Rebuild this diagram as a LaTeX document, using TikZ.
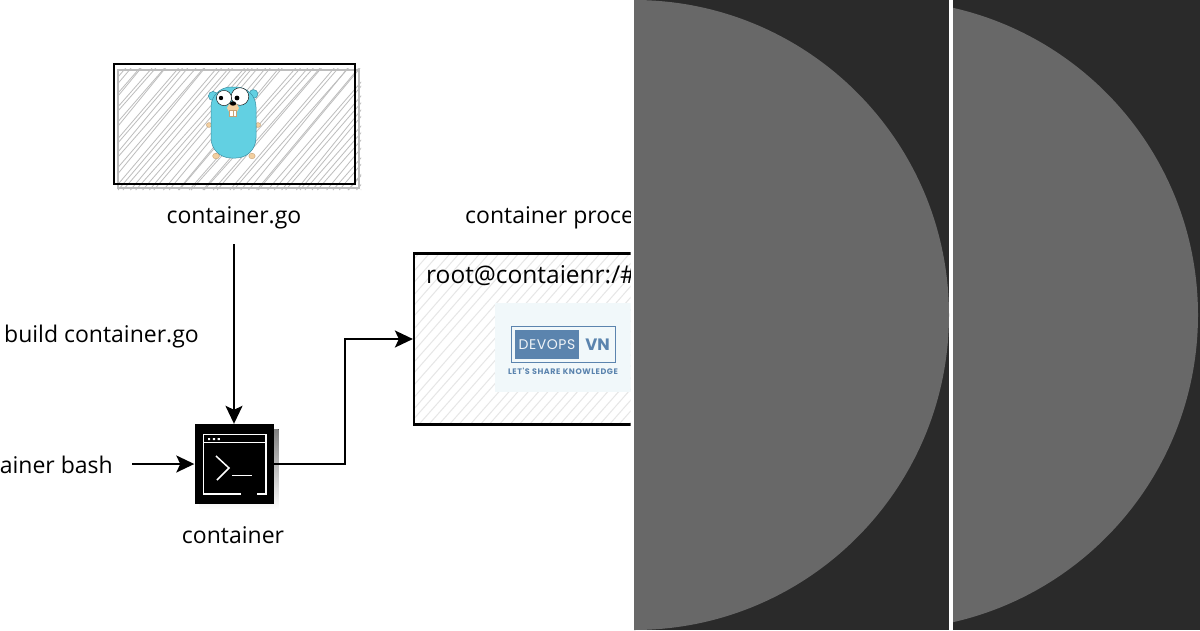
\documentclass[tikz,border=0pt]{standalone}
\usepackage{fontspec}
\setmainfont{Open Sans}
\newfontfamily\logofont{Poppins}
\usetikzlibrary{arrows.meta}
\definecolor{panel}{HTML}{2A2A2A}
\definecolor{disc}{HTML}{686868}
\definecolor{hatchA}{HTML}{BDBDBD}
\definecolor{hatchB}{HTML}{E6E6E6}
\definecolor{gopher}{HTML}{62D0E2}
\definecolor{gopherline}{HTML}{3C8FA3}
\definecolor{tan}{HTML}{F2CFA0}
\definecolor{tanline}{HTML}{C9A274}
\definecolor{logoblue}{HTML}{5B84AE}
\definecolor{logobg}{HTML}{F1F8FA}
\definecolor{shade}{HTML}{C8C8C8}
\tikzset{
  caption/.style={font=\fontsize{23}{27}\selectfont, text=black, inner sep=0pt},
  conn/.style={draw=black, line width=2pt, -{Stealth[length=18pt,width=17pt,inset=4pt]}},
  hatchgo/.style={draw=hatchA, line width=0.8pt},
  hatchproc/.style={draw=hatchB, line width=1pt},
  frame/.style={draw=black, line width=2.2pt},
  winline/.style={draw=white, line width=1.5pt},
  goshape/.style={draw=gopherline, line width=0.5pt},
  tanshape/.style={draw=tanline, line width=0.4pt},
}
\begin{document}
\begin{tikzpicture}[x=1pt,y=-1pt]
\useasboundingbox (0,0) rectangle (1200,630);
\fill[white] (0,0) rectangle (1200,630);
\pgfmathsetseed{11}

% --- Go source box: hatching, offset sketch outline, frame
\begin{scope}
  \clip (117,68) rectangle (361,190);
  \foreach \i in {8,21,...,372}{
    \draw[hatchgo] ({\i+3*rand},190) -- ({\i+104+3*rand},68);
    \draw[hatchgo] ({\i+4+3*rand},190) -- ({\i+108+3*rand},68);
  }
\end{scope}
\draw[draw=hatchA, line width=1.6pt] (118,70) rectangle (359,188);
\node[frame, minimum width=241pt, minimum height=120pt, inner sep=0pt] (gobox) at (234.5,124) {};

% --- Gopher
\begin{scope}
  \fill[tan, tanshape] (209,125) ellipse (2.6pt and 2.4pt);
  \fill[tan, tanshape] (258,125) ellipse (2.6pt and 2.4pt);
  \fill[tan, tanshape] (216,156) ellipse (3.4pt and 2.8pt);
  \fill[tan, tanshape] (252,156) ellipse (3.2pt and 2.8pt);
  \fill[gopher, goshape] (213,96) circle (4.6pt);
  \fill[gopher, goshape] (253.5,94) circle (4.4pt);
  \fill[gopher, goshape, rounded corners=20pt] (211,87) rectangle (256,158);
  \fill[white, draw=black, line width=0.4pt] (224,98) circle (7.6pt);
  \fill[white, draw=black, line width=0.4pt] (240,96.5) circle (8.8pt);
  \fill[black] (221,98) circle (2.2pt);
  \fill[black] (237,98) circle (2.4pt);
  \fill[tan] (233,108) ellipse (6pt and 4.8pt);
  \fill[white, draw=tanline, line width=0.3pt] (229.5,110) rectangle (233,116);
  \fill[white, draw=tanline, line width=0.3pt] (233,110) rectangle (236.5,116);
  \fill[black] (233,103.5) ellipse (3.2pt and 2.2pt);
\end{scope}

% --- Captions
\node[caption, minimum height=52pt] (gotext) at (234,218) {container.go};
\node[caption, anchor=west] (buildtext) at (4,337) {build container.go};
\node[caption, anchor=east] (bashtext) at (113,465) {ainer bash};
\node[caption] (termtext) at (233,535) {container};

% --- Terminal icon
\fill[shade] (199,429) rectangle (278.5,509);
\node[fill=black, minimum width=79pt, minimum height=80pt, inner sep=0pt] (term) at (234,464) {};
\draw[winline] (241,494) -- (203.5,494) -- (203.5,434.5) -- (266,434.5) -- (266,494) -- (257,494);
\draw[winline] (203.5,442.5) -- (266,442.5);
\fill[white] (208,438) rectangle (210.2,440) (212.8,438) rectangle (215,440) (217.6,438) rectangle (219.8,440);
\draw[winline] (216,456) -- (229,468) -- (217,480);
\draw[winline] (232,475.5) -- (252,475.5);

% --- Process box (clipped at the panel's white margin)
\begin{scope}
  \clip (400,195) rectangle (630.5,440);
  \begin{scope}
    \clip (414,253) rectangle (640,424);
    \foreach \i in {240,250,...,640}{
      \draw[hatchproc] ({\i+rand},424) -- ({\i+150+rand},253);
    }
  \end{scope}
  \fill[logobg] (495,303) rectangle (640,392);
  \node[frame, minimum width=232pt, minimum height=171pt, inner sep=0pt] (procbox) at (530,339) {};
  \node[caption, anchor=west] (proctitle) at (465,218) {container proce};
  \node[caption, anchor=west, font=\fontsize{24.5}{28}\selectfont] (prompt) at (426,276) {root@contaienr:/\#};
  % logo
  \draw[draw=logoblue, line width=0.9pt] (511,326.5) rectangle (615,362.5);
  \fill[logoblue] (515,329.5) rectangle (579,359);
  \node[inner sep=0pt, text=white!90!logoblue, font=\logofont\fontsize{14}{15}\selectfont\addfontfeature{LetterSpace=4}] (logoa) at (547,344.5) {DEVOPS};
  \node[inner sep=0pt, text=logoblue, font=\logofont\bfseries\fontsize{16.5}{17}\selectfont] (logob) at (597.5,344.5) {VN};
  \node[inner sep=0pt, text=logoblue, font=\logofont\bfseries\fontsize{8}{9}\selectfont\addfontfeature{LetterSpace=7}] (logoc) at (563,371) {LET'S SHARE KNOWLEDGE};
\end{scope}

% --- Connectors
\coordinate (bashstart) at (132,464);
\draw[conn] (gotext.south) -- (term.north);
\draw[conn] (bashstart) -- (term.west);
\draw[conn] (term.east) -- ++(71.5,0) |- (procbox.west);

% --- Right-hand panel
\fill[panel] (634,0) rectangle (949,630);
\fill[white] (949,0) rectangle (953,630);
\fill[panel] (953,0) rectangle (1200,630);
\begin{scope}
  \clip (634,0) rectangle (949,630);
  \fill[disc] (634,315) circle (315pt);
\end{scope}
\begin{scope}
  \clip (953,0) rectangle (1200,630);
  \fill[disc] (883,315) circle (315pt);
\end{scope}
\end{tikzpicture}
\end{document}
